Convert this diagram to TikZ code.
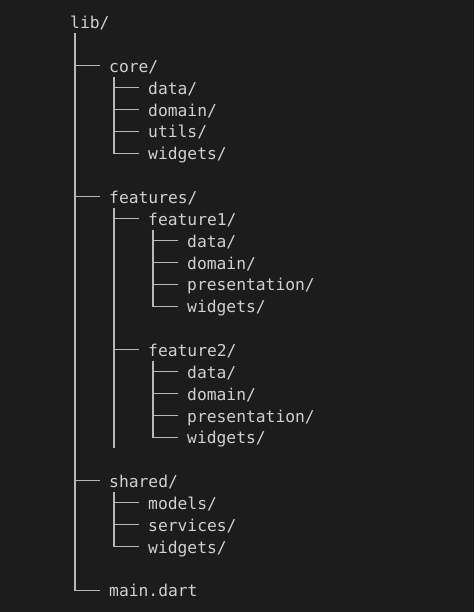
\documentclass[tikz,border=0pt]{standalone}
\usepackage{fontspec}
\setmonofont{DejaVu Sans Mono}
\definecolor{termbg}{HTML}{1C1C1C}
\definecolor{dirtext}{HTML}{D0D0D0}
\definecolor{treeline}{HTML}{B8B8B8}

\begin{document}
\begin{tikzpicture}
        [x=1pt,y=-1pt,
        every node/.style={anchor=west,inner sep=0pt,minimum height=21.85pt,
          text height=14.5pt,text depth=1pt,text=dirtext,
          font=\ttfamily\fontsize{16.3}{16.3}\selectfont},
        branch/.style={draw=treeline,line width=1.1pt}
        ]
        \fill[termbg] (0,0) rectangle (474,612);
        \useasboundingbox (0,0) rectangle (474,612);
        \node (lib) at (70, 22) {lib/};
        \node (core) at (109, 65.7) {core/};
        \node (core-data) at (148, 87.55) {data/};
        \node (core-domain) at (148, 109.4) {domain/};
        \node (core-utils) at (148, 131.25) {utils/};
        \node (core-widgets) at (148, 153.1) {widgets/};
        \node (features) at (109, 196.8) {features/};
        \node (feature1) at (148, 218.65) {feature1/};
        \node (f1-data) at (187, 240.5) {data/};
        \node (f1-domain) at (187, 262.35) {domain/};
        \node (f1-presentation) at (187, 284.2) {presentation/};
        \node (f1-widgets) at (187, 306.05) {widgets/};
        \node (feature2) at (148, 349.75) {feature2/};
        \node (f2-data) at (187, 371.6) {data/};
        \node (f2-domain) at (187, 393.45) {domain/};
        \node (f2-presentation) at (187, 415.3) {presentation/};
        \node (f2-widgets) at (187, 437.15) {widgets/};
        \node (shared) at (109, 480.85) {shared/};
        \node (shared-models) at (148, 502.7) {models/};
        \node (shared-services) at (148, 524.55) {services/};
        \node (shared-widgets) at (148, 546.4) {widgets/};
        \node (main-dart) at (109, 590.1) {main.dart};
        % stems under each folder
        \foreach \p in {lib,core,features,feature1,feature2,shared}
          \coordinate (\p-stem) at ([xshift=5pt]\p.south west);
        \foreach \p/\c in {lib/core,lib/features,lib/shared,lib/main-dart,
            core/core-data,core/core-domain,core/core-utils,core/core-widgets,
            features/feature1,features/feature2,
            feature1/f1-data,feature1/f1-domain,feature1/f1-presentation,feature1/f1-widgets,
            feature2/f2-data,feature2/f2-domain,feature2/f2-presentation,feature2/f2-widgets,
            shared/shared-models,shared/shared-services,shared/shared-widgets}
          \draw[branch] (\p-stem) |- ([xshift=-9pt]\c.west);
        \draw[branch] (features-stem) -- (features-stem |- f2-widgets.south);
    \end{tikzpicture}
\end{document}
